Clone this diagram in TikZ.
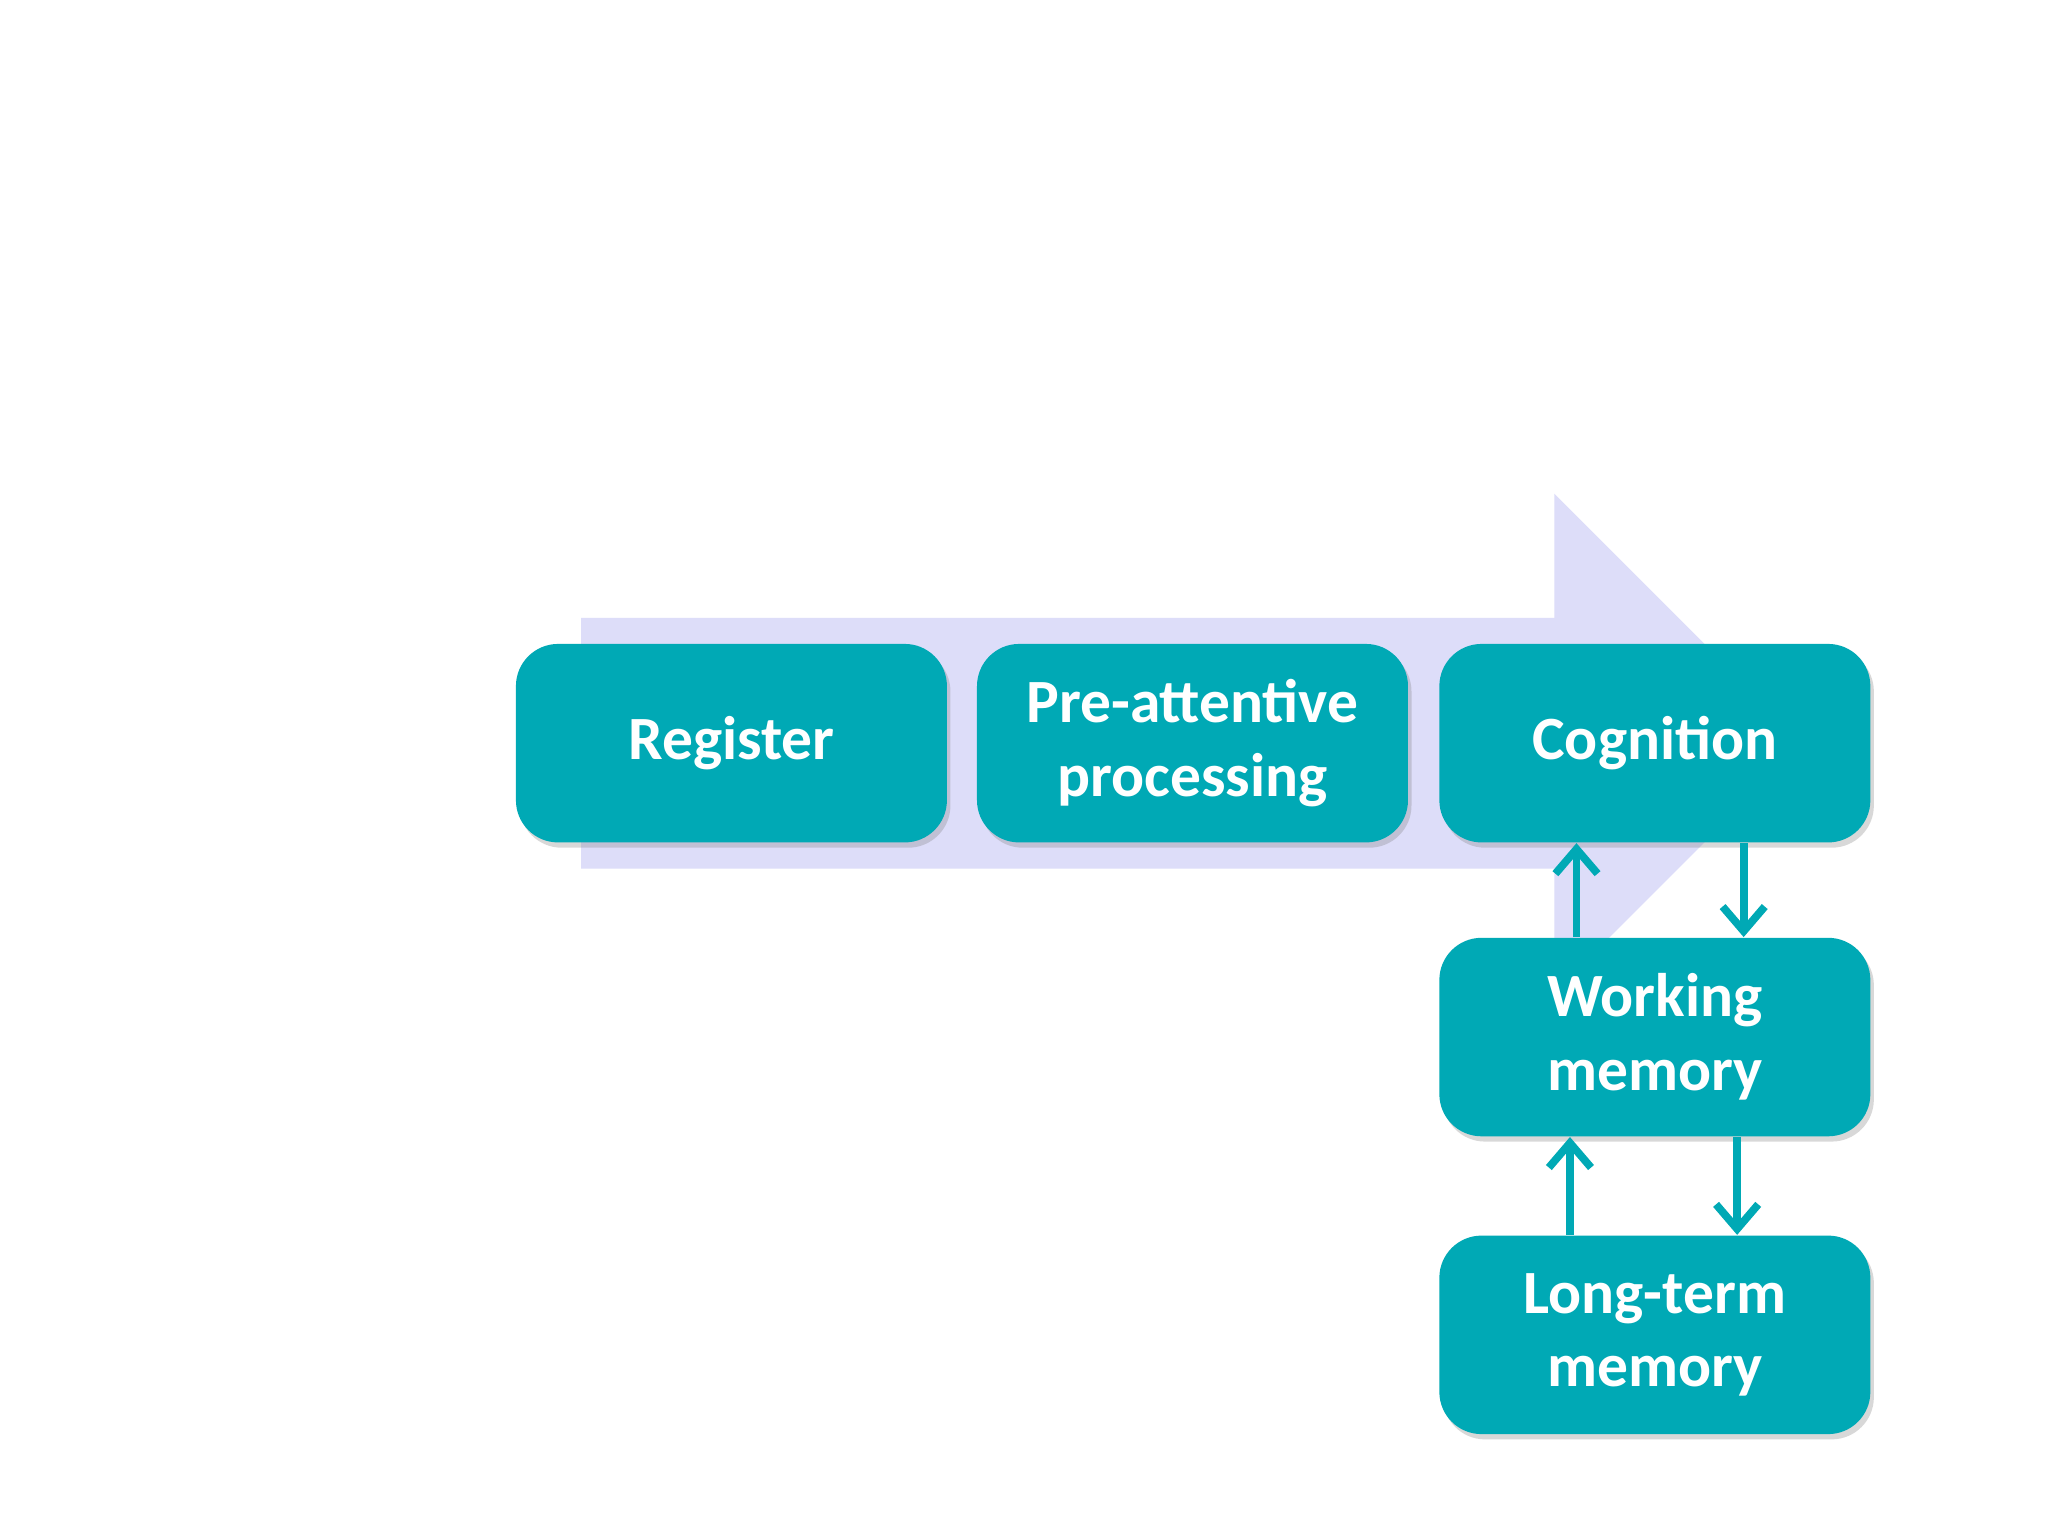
\documentclass[tikz,border=0pt]{standalone}
\usepackage{fontspec}
\setmainfont{Carlito}
\usetikzlibrary{arrows.meta,shadows}
\definecolor{teal1}{HTML}{00A9B5}
\definecolor{lav}{HTML}{DDDDF9}
\begin{document}
\begin{tikzpicture}[x=0.013061cm,y=-0.013061cm,
  box/.style={draw=none,fill=teal1,rounded corners=12pt,text=white,font=\bfseries\fontsize{17.5}{21}\selectfont,align=center,minimum width=4.31cm,minimum height=1.985cm,drop shadow={shadow xshift=1pt,shadow yshift=-1.5pt,opacity=0.3}},
  conn/.style={draw=teal1,line width=2.2pt,-{Straight Barb[length=7pt,width=12pt,line width=2.2pt]}}]
\useasboundingbox (0,0) rectangle (1568,1176);
\fill[white] (0,0) rectangle (1568,1176);
\fill[lav] (445,473) -- (1190,473) -- (1190,378) -- (1381,569) -- (1190,760) -- (1190,665) -- (445,665) -- cycle;
\node[box] (reg) at (560,569) {Register};
\node[box] (pre) at (913,569) {Pre-attentive\\processing};
\node[box] (cog) at (1267,569) {Cognition};
\node[box] (wm) at (1267,794) {Working\\memory};
\node[box] (ltm) at (1267,1022) {Long-term\\memory};
\draw[conn] (wm.north -| 1207,0) -- (cog.south -| 1207,0);
\draw[conn] (cog.south -| 1335,0) -- (wm.north -| 1335,0);
\draw[conn] (ltm.north -| 1202,0) -- (wm.south -| 1202,0);
\draw[conn] (wm.south -| 1330,0) -- (ltm.north -| 1330,0);
\end{tikzpicture}
\end{document}
